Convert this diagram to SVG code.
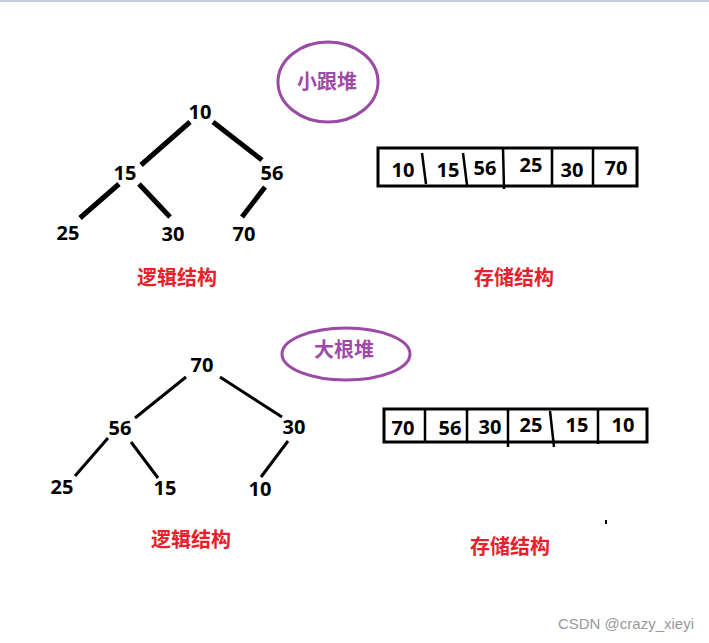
<svg xmlns="http://www.w3.org/2000/svg" width="709" height="643" viewBox="0 0 709 643">
<style>
.n{font-family:"Open Sans","Noto Sans",sans-serif;font-weight:bold;font-size:20px;fill:#000;text-anchor:middle}
.cj{font-family:"Noto Sans CJK SC",sans-serif;font-weight:bold;font-size:20px;text-anchor:middle}
.red{fill:#e8202a}
.pur{fill:#a04aa8}
.e{fill:none;stroke:#9b4aa5;stroke-width:3}
.t1{stroke:#000;stroke-width:5;stroke-linecap:butt}
.t2{stroke:#000;stroke-width:3}
.box{fill:none;stroke:#000;stroke-width:3}
.d{stroke:#000;stroke-width:2.5;fill:none}
</style>
<rect x="0" y="0" width="709" height="643" fill="#fff"/>
<rect x="0" y="0" width="709" height="2" fill="#c5cde0"/>
<g id="connectors">
<line class="t1" x1="190" y1="122" x2="141" y2="165"/>
<line class="t1" x1="213" y1="122" x2="262" y2="160"/>
<line class="t1" x1="119" y1="184" x2="80" y2="218"/>
<line class="t1" x1="139" y1="184" x2="170" y2="217"/>
<line class="t1" x1="265" y1="187" x2="242" y2="217"/>
<line class="t2" x1="186" y1="377" x2="135" y2="418"/>
<line class="t2" x1="220" y1="377" x2="282" y2="417"/>
<line class="t2" x1="108" y1="438" x2="75" y2="476"/>
<line class="t2" x1="131" y1="442" x2="158" y2="478"/>
<line class="t2" x1="288" y1="441" x2="261" y2="477"/>
</g>
<g id="min-heap-title"><ellipse class="e" cx="328" cy="82" rx="50" ry="40"/><text class="cj pur" x="327" y="89">小跟堆</text></g>
<g id="n10a"><text class="n" x="200" y="119">10</text></g>
<g id="n15a"><text class="n" x="125" y="180">15</text></g>
<g id="n56a"><text class="n" x="272" y="180">56</text></g>
<g id="n25a"><text class="n" x="68" y="240">25</text></g>
<g id="n30a"><text class="n" x="173" y="241">30</text></g>
<g id="n70a"><text class="n" x="244" y="241">70</text></g>
<g id="array-top">
<rect class="box" x="378" y="148" width="259" height="38"/>
<path class="d" d="M422 153 L426 184 M463 153 L467 185 M503 148 L504 189 M552 148 L552 186 M593 148 L593 186"/>
<text class="n" x="403" y="177">10</text>
<text class="n" x="448" y="177">15</text>
<text class="n" x="485" y="175">56</text>
<text class="n" x="531" y="172">25</text>
<text class="n" x="572" y="177">30</text>
<text class="n" x="616" y="175">70</text>
</g>
<g id="label-top-left"><text class="cj red" x="177" y="285">逻辑结构</text></g>
<g id="label-top-right"><text class="cj red" x="514" y="285">存储结构</text></g>
<g id="max-heap-title"><ellipse class="e" cx="346" cy="354" rx="64" ry="26"/><text class="cj pur" x="344" y="357">大根堆</text></g>
<g id="n70b"><text class="n" x="202" y="372">70</text></g>
<g id="n56b"><text class="n" x="120" y="435">56</text></g>
<g id="n30b"><text class="n" x="294" y="434">30</text></g>
<g id="n25b"><text class="n" x="62" y="494">25</text></g>
<g id="n15b"><text class="n" x="165" y="495">15</text></g>
<g id="n10b"><text class="n" x="260" y="496">10</text></g>
<g id="array-bottom">
<rect class="box" x="384" y="409" width="263" height="33"/>
<path class="d" d="M425 410 L425 443 M467 409 L467 443 M508 409 L508 447 M550 411 L554 447 M598 409 L598 444"/>
<text class="n" x="403" y="435">70</text>
<text class="n" x="450" y="435">56</text>
<text class="n" x="490" y="434">30</text>
<text class="n" x="531" y="432">25</text>
<text class="n" x="577" y="432">15</text>
<text class="n" x="623" y="432">10</text>
</g>
<g id="label-bottom-left"><text class="cj red" x="191" y="547">逻辑结构</text></g>
<g id="label-bottom-right"><text class="cj red" x="510" y="554">存储结构</text></g>
<rect x="605" y="520" width="2" height="4" fill="#000"/>
<text x="694" y="629" font-family="Liberation Sans,Arial,sans-serif" font-size="15" fill="#999999" text-anchor="end">CSDN @crazy_xieyi</text>
</svg>
